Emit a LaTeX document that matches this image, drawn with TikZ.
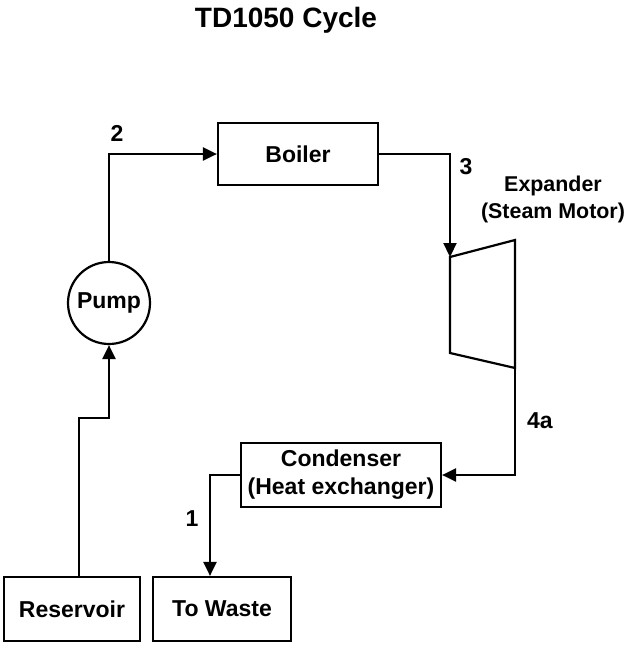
\documentclass[tikz,border=0pt]{standalone}
\usepackage{fontspec}
\setmainfont{Liberation Sans}
\usetikzlibrary{arrows.meta}
\begin{document}
\begin{tikzpicture}[x=0.5pt,y=-0.5pt,
  unit/.style={draw,line width=1.1pt,font=\bfseries\fontsize{11.5}{14}\selectfont,align=center,inner sep=0pt},
  flow/.style={line width=1.1pt,-{Triangle[length=7pt,width=6.5pt]}},
  tag/.style={font=\bfseries\fontsize{11.5}{14}\selectfont,align=center}]
\useasboundingbox (0,0) rectangle (628,649);
\node[font=\bfseries\fontsize{14}{16}\selectfont] (title) at (286,20) {TD1050 Cycle};
% Components
\node[unit,minimum width=80pt,minimum height=31pt] (boiler) at (298,154) {Boiler};
\node[unit,circle,minimum size=41pt] (pump) at (109,303) {Pump};
\node[unit,minimum width=100pt,minimum height=32pt] (cond) at (341,475) {Condenser\\(Heat exchanger)};
\node[unit,minimum width=68pt,minimum height=32pt] (res) at (72,609) {Reservoir};
\node[unit,minimum width=69pt,minimum height=32pt] (waste) at (222,609) {To Waste};
% Expander
\coordinate (e1) at (450,257); \coordinate (e2) at (515,240);
\coordinate (e3) at (515,368); \coordinate (e4) at (450,353);
\draw[line width=1.1pt,line join=miter] (e1) -- (e2) -- (e3) -- (e4) -- cycle;
\node[tag,font=\bfseries\fontsize{10.7}{13.5}\selectfont] (exp) at (553,199) {Expander\\(Steam Motor)};
% Flow lines
\coordinate (jog) at (109,418);
\draw[flow] ([xshift=3.5pt]res.north) |- (jog) -- (pump.south);
\draw[flow] (pump.north) |- (boiler.west);
\draw[flow] (boiler.east) -| (e1);
\draw[flow] (e3) |- (cond.east);
\draw[flow] (cond.west) -| ([xshift=-6pt]waste.north);
% State points
\node[tag] (p2) at (117,133) {2};
\node[tag] (p3) at (466,167) {3};
\node[tag] (p4a) at (540,421) {4a};
\node[tag] (p1) at (192,519) {1};
\end{tikzpicture}
\end{document}
